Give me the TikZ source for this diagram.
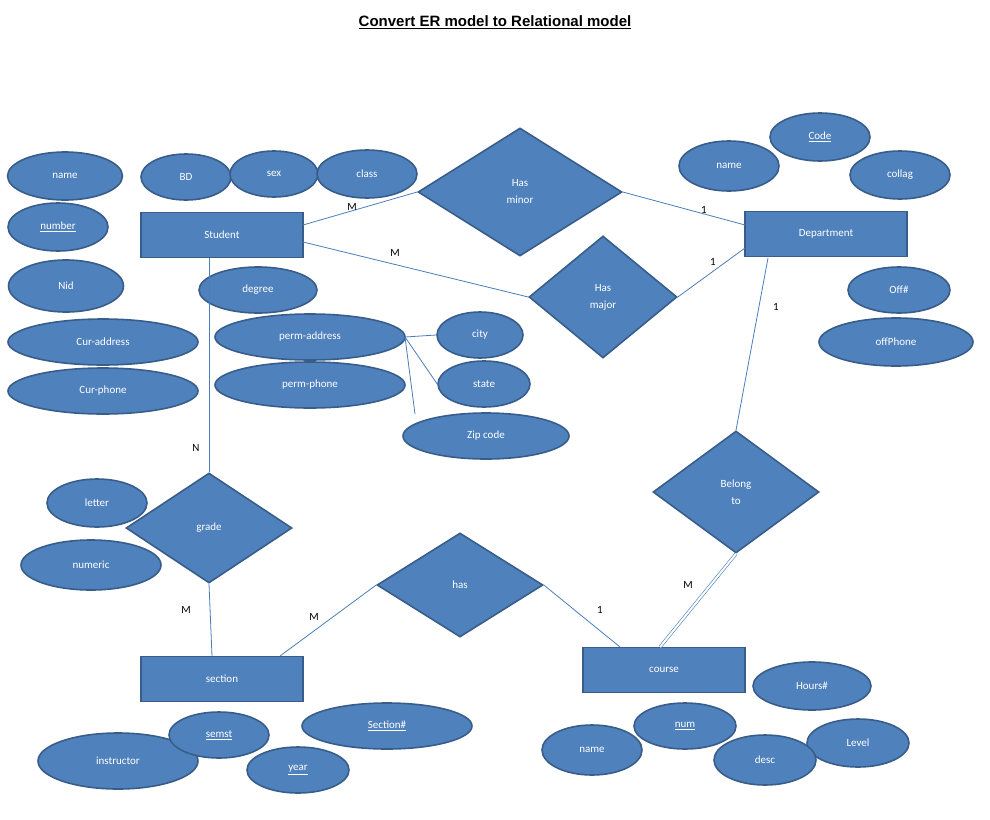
\documentclass[tikz,border=0pt]{standalone}
\usepackage{fontspec}
\setmainfont{Carlito}
\newfontfamily\titlefont{Liberation Sans}
\usetikzlibrary{shapes.geometric}
\definecolor{fillb}{HTML}{4F81BD}
\definecolor{edgeb}{HTML}{385D8A}
\definecolor{lineb}{HTML}{4A7EBB}
\begin{document}
\begin{tikzpicture}[x=1pt,y=-1pt,
  base/.style={fill=fillb,draw=edgeb,line width=1.6pt,text=white,font=\fontsize{11}{13}\selectfont,inner sep=0pt},
  att/.style={base,ellipse,minimum width=#1},
  att/.default=100,
  ent/.style={base,rectangle,minimum width=162,minimum height=45},
  rel/.style={base,diamond,align=center,aspect=1.6},
  con/.style={draw=lineb,line width=0.8pt},
  lab/.style={font=\fontsize{11}{13}\selectfont,text=black}]
\useasboundingbox (0,0) rectangle (990,819);
\node[font=\titlefont\bfseries\fontsize{15}{18}\selectfont] (title) at (495,22) {\underline{Convert ER model to Relational model}};
% entities
\node[ent] (student) at (222,235) {Student};
\node[ent] (dept) at (826,234) {Department};
\node[ent] (section) at (222,679) {section};
\node[ent] (course) at (664,670) {course};
% relations
\node[rel,minimum width=204,minimum height=128] (minor) at (520,192) {Has\\[4pt]minor};
\node[rel,minimum width=148,minimum height=122] (major) at (603,297) {Has\\[4pt]major};
\node[rel,minimum width=166,minimum height=122] (belong) at (736,492) {Belong\\[4pt]to};
\node[rel,minimum width=166,minimum height=110] (grade) at (209,528) {grade};
\node[rel,minimum width=166,minimum height=104] (has) at (460,585) {has};
% attributes
\tikzset{a/.style 2 args={att,minimum width=#1,minimum height=#2}}
\node[a={115}{48}] (sname) at (65,176) {name};
\node[a={90}{46}] (bd) at (186,177) {BD};
\node[a={88}{46}] (sex) at (274,174) {sex};
\node[a={100}{48}] (class) at (367,174) {class};
\node[a={100}{48}] (number) at (58,227) {\underline{number}};
\node[a={115}{52}] (nid) at (66,286) {Nid};
\node[a={190}{46}] (curaddr) at (103,342) {Cur-address};
\node[a={190}{46}] (curphone) at (103,391) {Cur-phone};
\node[a={118}{46}] (degree) at (258,290) {degree};
\node[a={190}{46}] (permaddr) at (310,337) {perm-address};
\node[a={190}{46}] (permphone) at (310,385) {perm-phone};
\node[a={86}{46}] (city) at (480,335) {city};
\node[a={92}{46}] (state) at (484,384) {state};
\node[a={166}{46}] (zip) at (486,436) {Zip code};
\node[a={100}{50}] (dname) at (729,166) {name};
\node[a={100}{48}] (code) at (820,137) {\underline{Code}};
\node[a={100}{48}] (collag) at (900,175) {collag};
\node[a={102}{46}] (off) at (899,290) {Off\#};
\node[a={154}{48}] (offphone) at (896,342) {offPhone};
\node[a={100}{48}] (letter) at (97,503) {letter};
\node[a={140}{50}] (numeric) at (91,565) {numeric};
\node[a={170}{46}] (secno) at (387,726) {\underline{Section\#}};
\node[a={160}{56}] (instr) at (118,761) {instructor};
\node[a={100}{46}] (semst) at (219,735) {\underline{semst}};
\node[a={102}{46}] (year) at (298,770) {\underline{year}};
\node[a={118}{48}] (hours) at (812,686) {Hours\#};
\node[a={102}{46}] (num) at (685,726) {\underline{num}};
\node[a={100}{50}] (cname) at (592,750) {name};
\node[a={102}{48}] (level) at (858,743) {Level};
\node[a={102}{50}] (desc) at (765,760) {desc};
% connectors
\coordinate (s1) at (303,225); \coordinate (s2) at (303,242); \coordinate (s3) at (209,258);
\coordinate (d1) at (745,225); \coordinate (d2) at (745,248); \coordinate (d3) at (768,258);
\coordinate (c1) at (660,647); \coordinate (c2) at (620,647);
\coordinate (se1) at (212,656); \coordinate (se2) at (280,656);
\coordinate (pa) at (405,337); \coordinate (zt) at (415,414);
\draw[con] (s1) -- (minor.west);
\draw[con] (minor.east) -- (d1);
\draw[con] (s2) -- (major.west);
\draw[con] (major.east) -- (d2);
\draw[con] (d3) -- (belong.north);
\draw[draw=lineb,line width=0.6pt,double=white,double distance=2pt] (belong.south) -- (c1);
\draw[con] (s3) -- (grade.north);
\draw[con] (grade.south) -- (se1);
\draw[con] (has.west) -- (se2);
\draw[con] (has.east) -- (c2);
\draw[con] (pa) -- (city.west);
\draw[con] (pa) -- (state.west);
\draw[con] (pa) -- (zt);
% labels
\node[lab] (l1) at (352,207) {M};
\node[lab] (l2) at (395,253) {M};
\node[lab] (l3) at (704,210) {1};
\node[lab] (l4) at (713,262) {1};
\node[lab] (l5) at (776,307) {1};
\node[lab] (l6) at (196,448) {N};
\node[lab] (l7) at (186,610) {M};
\node[lab] (l8) at (314,617) {M};
\node[lab] (l9) at (600,610) {1};
\node[lab] (l10) at (688,585) {M};
\end{tikzpicture}
\end{document}
